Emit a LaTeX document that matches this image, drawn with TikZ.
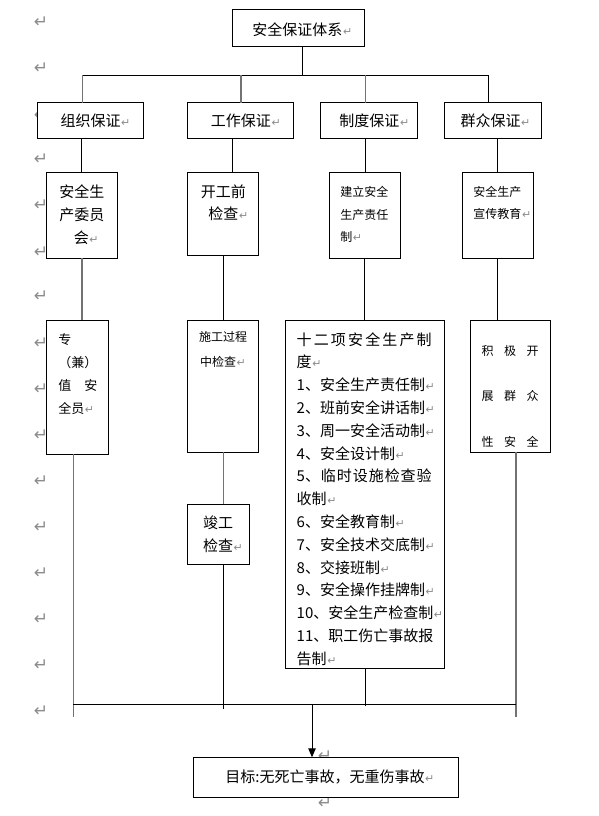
\documentclass[tikz,border=0pt]{standalone}
\usepackage{fontspec}
\setmainfont{Noto Sans CJK SC}
\newfontfamily\djv{DejaVu Sans}
\usetikzlibrary{arrows.meta}
\definecolor{pmgray}{gray}{0.55}
\newcommand\pmk{{\hspace{0.6pt}\color{pmgray}\djv\fontsize{11}{11}\selectfont ↵}}
\newcommand\gp{\hspace{10.5pt}}
% W H size baselineskip firstbaseline indent content
\newcommand\bxc[7]{\parbox[c][#2pt][t]{#1pt}{\fontsize{#3}{#4}\selectfont\raggedright\leftskip=#6pt\relax\rule{0pt}{#5pt}#7}}
\tikzset{
  cbox/.style={draw=black, line width=1pt, fill=white, inner sep=0pt, outer sep=0pt, anchor=north west},
  bl/.style={draw=black, line width=0.9pt},
  gl/.style={draw=black!55, line width=1.4pt},
  mk/.style={inner sep=0pt, text=pmgray, font=\djv\fontsize{17}{17}\selectfont}
}
\begin{document}
\begin{tikzpicture}[x=1pt,y=-1pt]
\useasboundingbox (0,0) rectangle (599,816);
\fill[white] (0,0) rectangle (599,816);
% paragraph marks in the margin
\foreach \yy [count=\i] in {22,68,115,159,205,252,296,343,389,435,481,527,573,619,665,711}
  \node[mk] (m\i) at (41,\yy) {↵};
\node[mk] (mg1) at (325,756) {↵};
\node[mk] (mg2) at (325,802.7) {↵};
% top
\node[cbox] (top) at (232.5,10) {\bxc{131.9}{37}{15}{18}{25.7}{19.9}{安全保证体系\pmk}};
% row 2
\node[cbox] (org)  at (37.2,102.5)  {\bxc{105.8}{35.5}{15}{18}{24.2}{23.3}{组织保证\pmk}};
\node[cbox] (work) at (187.4,102.5) {\bxc{106.3}{35.5}{15}{18}{24.2}{23.5}{工作保证\pmk}};
\node[cbox] (sys)  at (320.5,102.5) {\bxc{97.1}{35.5}{15}{18}{24.2}{18.9}{制度保证\pmk}};
\node[cbox] (mass) at (444.7,102.5) {\bxc{97.2}{35.5}{15}{18}{24.2}{15.9}{群众保证\pmk}};
% row 3
\node[cbox] (c1) at (46.3,172.3)  {\bxc{71.1}{86}{15}{22.8}{25.1}{13}{安全生\\产委员\\\hspace*{14.5pt}会\pmk}};
\node[cbox] (c2) at (187.4,172.3) {\bxc{71.5}{83.4}{15}{22.3}{25.1}{13.4}{开工前\\\hspace*{7.6pt}检查\pmk}};
\node[cbox] (c3) at (329.6,172.3) {\bxc{70.4}{86}{12}{22.7}{24}{10.7}{建立安全\\生产责任\\制\pmk}};
\node[cbox] (c4) at (462,172.3)   {\bxc{71.1}{86}{12}{22.3}{24}{11.4}{安全生产\\宣传教育\pmk}};
% row 4
\node[cbox] (d1) at (46.3,320.3)  {\bxc{62}{134}{13}{23.1}{23.9}{12}{专\\（兼）\\\makebox[39pt][s]{值\hfil 安}\\全员\pmk}};
\node[cbox] (d2) at (187.7,320.3) {\bxc{70.6}{132}{12}{24.4}{21.6}{11.3}{施工过程\\\hspace*{1pt}中检查\pmk}};
\node[cbox] (d3) at (285.5,320.3) {\bxc{158.8}{348}{15}{22.8}{24.7}{11.2}{%
\makebox[135pt][s]{十\hfil 二\hfil 项\hfil 安\hfil 全\hfil 生\hfil 产\hfil 制}\\
度\pmk\\
1、安全生产责任制\pmk\\
2、班前安全讲话制\pmk\\
3、周一安全活动制\pmk\\
4、安全设计制\pmk\\
\makebox[135pt][s]{5、\hfil 临\hfil 时\hfil 设\hfil 施\hfil 检\hfil 查\hfil 验}\\
收制\pmk\\
6、安全教育制\pmk\\
7、安全技术交底制\pmk\\
8、交接班制\pmk\\
9、安全操作挂牌制\pmk\\
10、安全生产检查制\pmk\\
\makebox[135pt][s]{11、\hfil 职\hfil 工\hfil 伤\hfil 亡\hfil 事\hfil 故\hfil 报}\\
告制\pmk}};
\node[cbox] (d4) at (470.3,320.3) {\bxc{80}{132}{12}{45.5}{34.8}{11.4}{积\gp 极\gp 开\\展\gp 群\gp 众\\性\gp 安\gp 全}};
\node[cbox] (d5) at (187.7,504.3) {\bxc{61.6}{60}{15}{23}{24.1}{15.4}{竣工\\检查\pmk}};
% goal
\node[cbox] (goal) at (193.9,757.3) {\bxc{265}{40}{15}{18}{24.9}{31.5}{目标:无死亡事故，无重伤事故\pmk}};
% guide coordinates
\coordinate (bT) at (302.9,75);
\coordinate (bL) at (82.2,75);
\coordinate (bR) at (488.7,75);
\coordinate (b2) at (240.9,75);
\coordinate (b3) at (365.2,75);
\coordinate (v1) at (81.5,0);
\coordinate (v2) at (232.5,0);
\coordinate (v3) at (365.2,0);
\coordinate (v4) at (497.9,0);
\coordinate (w1) at (81.8,0);
\coordinate (w2) at (223.5,0);
\coordinate (w3) at (364.6,0);
\coordinate (w4) at (497.8,0);
\coordinate (g5) at (223.3,0);
\coordinate (e1) at (73.4,716.7);
\coordinate (e2) at (223.3,709);
\coordinate (e3) at (365.5,705.7);
\coordinate (e4) at (515.8,716.7);
\coordinate (bb1) at (73.4,704.3);
\coordinate (bb2) at (515.8,704.3);
\coordinate (ab) at (312,704.3);
% top tree
\draw[bl] (top.south -| bT) -- (bT);
\draw[bl] (bL) -- (bR);
\draw[gl] (bL) -- (bL |- org.north);
\draw[gl] (b2) -- (b2 |- work.north);
\draw[gl] (b3) -- (b3 |- sys.north);
\draw[bl] (bR) -- (bR |- mass.north);
% row 2 -> row 3
\draw[bl] (org.south -| v1)  -- (c1.north -| v1);
\draw[bl] (work.south -| v2) -- (c2.north -| v2);
\draw[bl] (sys.south -| v3)  -- (c3.north -| v3);
\draw[bl] (mass.south -| v4) -- (c4.north -| v4);
% row 3 -> row 4
\draw[gl] (c1.south -| w1) -- (d1.north -| w1);
\draw[bl] (c2.south -| w2) -- (d2.north -| w2);
\draw[bl] (c3.south -| w3) -- (d3.north -| w3);
\draw[bl] (c4.south -| w4) -- (d4.north -| w4);
\draw[gl] (d2.south -| g5) -- (d5.north -| g5);
% down to the bottom bus
\draw[gl] (d1.south -| e1) -- (e1);
\draw[bl] (d5.south -| e2) -- (e2);
\draw[bl] (d3.south -| e3) -- (e3);
\draw[gl] (d4.south -| e4) -- (e4);
\draw[bl] (bb1) -- (bb2);
\draw[bl, -{Triangle[length=9pt,width=7.5pt]}] (ab) -- (ab |- goal.north);
\end{tikzpicture}
\end{document}
